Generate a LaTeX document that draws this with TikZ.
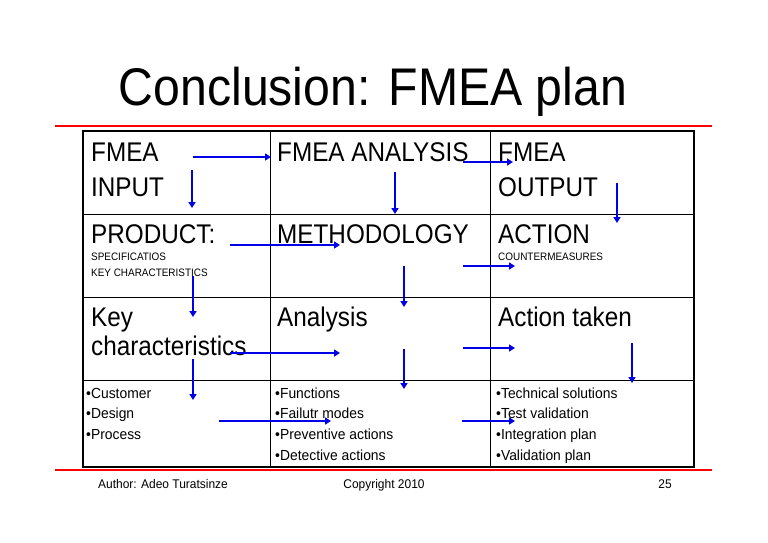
\documentclass[tikz,border=0pt]{standalone}
\usepackage{fontspec}
\setmainfont{Liberation Sans}
\usetikzlibrary{arrows.meta}
\begin{document}
\begin{tikzpicture}[x=1pt,y=-1pt,
  arr/.style={draw={rgb,255:red,0;green,0;blue,230},line width=2.5pt,-{Triangle[length=6pt,width=7pt]}},
  big/.style={anchor=base west,inner sep=0pt,xscale=0.9,font=\fontsize{27}{27}\selectfont},
  small/.style={anchor=base west,inner sep=0pt,xscale=0.92,font=\fontsize{10.8}{11}\selectfont},
  bul/.style={anchor=base west,inner sep=0pt,xscale=0.95,font=\fontsize{14.6}{15}\selectfont},
  foot/.style={anchor=base,inner sep=0pt,xscale=0.95,font=\fontsize{12.6}{13}\selectfont}]
\useasboundingbox (0,0) rectangle (768,542);
\fill[white] (0,0) rectangle (768,542);
\node[anchor=base,inner sep=0pt,xscale=0.91,font=\fontsize{53}{53}\selectfont] (title) at (373,105) {Conclusion: FMEA plan};
\draw[red,line width=1.5pt] (55,126) -- (712,126);
\draw[red,line width=1.5pt] (55,470) -- (712,470);
\draw[line width=1.5pt] (83,131) rectangle (694,467);
\draw[line width=0.7pt] (270,131) -- (270,467) (490,131) -- (490,467)
  (83,214) -- (694,214) (83,297) -- (694,297) (83,380) -- (694,380);
% row 1
\node[big] (a1) at (91,161) {FMEA};
\node[big] (a2) at (91,196) {INPUT};
\node[big] (b1) at (277,161) {FMEA ANALYSIS};
\node[big] (c1) at (498,161) {FMEA};
\node[big] (c2) at (498,196) {OUTPUT};
% row 2
\node[big] (d1) at (91,243) {PRODUCT:};
\node[small] (d2) at (91,260) {SPECIFICATIOS};
\node[small] (d3) at (91,276) {KEY CHARACTERISTICS};
\node[big] (e1) at (277,243) {METHODOLOGY};
\node[big] (f1) at (498,243) {ACTION};
\node[small] (f2) at (498,260) {COUNTERMEASURES};
% row 3
\node[big] (g1) at (91,326) {Key};
\node[big] (g2) at (91,355) {characteristics};
\node[big] (h1) at (277,326) {Analysis};
\node[big] (i1) at (498,326) {Action taken};
% row 4
\node[bul] (j1) at (86,398) {•Customer};
\node[bul] (j2) at (86,418) {•Design};
\node[bul] (j3) at (86,439) {•Process};
\node[bul] (k1) at (275,398) {•Functions};
\node[bul] (k2) at (275,418) {•Failutr modes};
\node[bul] (k3) at (275,439) {•Preventive actions};
\node[bul] (k4) at (275,460) {•Detective actions};
\node[bul] (l1) at (496,398) {•Technical solutions};
\node[bul] (l2) at (496,418) {•Test validation};
\node[bul] (l3) at (496,439) {•Integration plan};
\node[bul] (l4) at (496,460) {•Validation plan};
% footer
\node[foot] (f1x) at (163,488) {Author: Adeo Turatsinze};
\node[foot] (f2x) at (384,488) {Copyright 2010};
\node[foot] (f3x) at (665,488) {25};
% arrows
\draw[arr] (193,157) -- (271,157);
\draw[arr] (192,170) -- (192,208);
\draw[arr] (463,162) -- (513,162);
\draw[arr] (395,172) -- (395,214);
\draw[arr] (617,183) -- (617,223);
\draw[arr] (230,245) -- (340,245);
\draw[arr] (463,266) -- (515,266);
\draw[arr] (404,266) -- (404,307);
\draw[arr] (193,276) -- (193,317);
\draw[arr] (230,353) -- (340,353);
\draw[arr] (463,348) -- (515,348);
\draw[arr] (632,343) -- (632,383);
\draw[arr] (404,349) -- (404,389);
\draw[arr] (193,359) -- (193,400);
\draw[arr] (219,421) -- (331,421);
\draw[arr] (462,421) -- (515,421);
\end{tikzpicture}
\end{document}
